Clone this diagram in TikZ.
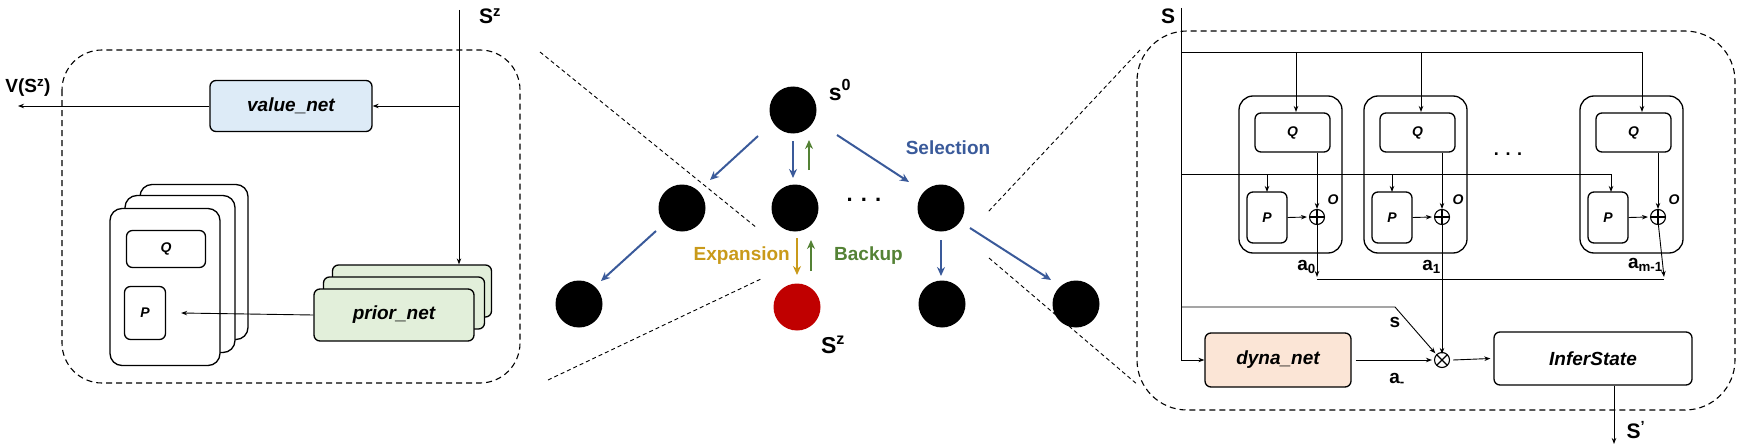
\documentclass[tikz,border=0pt]{standalone}
\usepackage{fontspec}
\setmainfont{Liberation Sans}
\usetikzlibrary{arrows.meta}
\definecolor{selblue}{HTML}{3A5A9A}
\definecolor{expo}{HTML}{C99A1A}
\definecolor{bgreen}{HTML}{548235}
\definecolor{vblue}{HTML}{DDEBF7}
\definecolor{pgreen}{HTML}{E2EFDA}
\definecolor{dorange}{HTML}{FBE5D6}
\definecolor{nred}{HTML}{C00000}
\tikzset{
  box/.style={draw,line width=1.3pt,rounded corners=6pt,inner sep=0pt,font=\bfseries\itshape\fontsize{19}{19}\selectfont},
  sbox/.style={box,font=\bfseries\itshape\fontsize{14}{14}\selectfont},
  card/.style={draw,line width=1.3pt,rounded corners=12pt,fill=white},
  arr/.style={-{Stealth[length=6pt,width=4.5pt]},line width=0.9pt},
  ln/.style={line width=0.9pt},
  dsh/.style={line width=1.1pt,dash pattern=on 6pt off 4pt},
  thindash/.style={line width=0.9pt,dash pattern=on 4pt off 3pt},
  tn/.style={circle,fill=black,minimum size=47pt,inner sep=0pt},
  sel/.style={-{Stealth[length=9pt,width=8pt]},line width=2pt,selblue},
  upg/.style={-{Stealth[length=9pt,width=8pt]},line width=2pt,bgreen},
  lbl/.style={font=\bfseries\fontsize{19}{19}\selectfont,inner sep=1pt},
  oplus/.style={circle,draw,line width=1.1pt,minimum size=15pt,inner sep=0pt,
    path picture={\draw[line width=1.1pt] (path picture bounding box.north) -- (path picture bounding box.south)
      (path picture bounding box.west) -- (path picture bounding box.east);}},
  otimes/.style={circle,draw,line width=1.1pt,minimum size=15pt,inner sep=0pt,
    path picture={\draw[line width=1.1pt] (path picture bounding box.north west) -- (path picture bounding box.south east)
      (path picture bounding box.south west) -- (path picture bounding box.north east);}}
}
\begin{document}
\begin{tikzpicture}[x=1pt,y=-1pt]
\useasboundingbox (0,0) rectangle (1738,444);
% ---------- left panel ----------
\draw[dsh,rounded corners=40pt] (62,50) rectangle (520,383);
\node[lbl,font=\bfseries\fontsize{21}{21}\selectfont] (sz1) at (490,16) {S\textsuperscript{z}};
\coordinate (top1) at (459,10);
\coordinate (jv) at (459,106);
\node[box,fill=vblue,minimum width=162pt,minimum height=51pt] (vn) at (291,106) {value\_net};
\node[lbl] (vsz) at (28,88) {V(S\textsuperscript{z})};
\coordinate (vout) at (18,106);
% stacked cards
\node[card,minimum width=108pt,minimum height=155pt] (c3) at (194,262) {};
\node[card,minimum width=110pt,minimum height=157pt] (c2) at (180,274) {};
\node[card,minimum width=110pt,minimum height=157pt] (c1) at (165,287) {};
\node[sbox,minimum width=79pt,minimum height=37pt] (q1) at (166,249) {Q};
\node[sbox,minimum width=41pt,minimum height=53pt] (p1) at (145,313) {P};
% prior_net stack
\node[box,fill=pgreen,minimum width=159pt,minimum height=52pt] (pn3) at (412,291) {};
\node[box,fill=pgreen,minimum width=161pt,minimum height=52pt] (pn2) at (404,303) {};
\node[box,fill=pgreen,minimum width=160pt,minimum height=52pt] (pn) at (394,315) {prior\_net};
\draw[ln] (top1) -- (jv);
\draw[arr] (jv) -- (pn3.north -| jv);
\draw[arr] (jv) -- (vn.east);
\draw[arr] (vn.west) -- (vout);
\draw[arr] (pn.west) -- ([xshift=15pt]p1.east);
% ---------- centre tree ----------
\draw[thindash] (540,52) -- (757,228);
\draw[thindash] (548,380) -- (763,278);
\draw[thindash] (1140,50) -- (988,212);
\draw[thindash] (989,258) -- (1138,385);
\node[tn] (s0) at (793,110) {};
\node[tn] (l) at (682,208) {};
\node[tn] (m) at (795,208) {};
\node[tn] (r) at (941,208) {};
\node[tn] (ll) at (579,304) {};
\node[tn,fill=nred] (sz) at (797,307) {};
\node[tn] (rb) at (942,304) {};
\node[tn] (rr) at (1076,304) {};
\node[lbl,font=\bfseries\fontsize{23}{23}\selectfont] (s0l) at (840,90) {s\textsuperscript{0}};
\node[lbl,font=\bfseries\fontsize{23}{23}\selectfont] (szl) at (833,345) {S\textsuperscript{z}};
\node[lbl,font=\bfseries\fontsize{22}{22}\selectfont] (dots1) at (864,200) {. . .};
\node[lbl,selblue] (seltxt) at (948,148) {Selection};
\node[lbl,expo,anchor=east] (exptxt) at (791,256) {Expansion};
\node[lbl,bgreen,anchor=west] (bktxt) at (833,256) {Backup};
\draw[sel] (758,136) -- (710,180);
\draw[sel] (793,141) -- (793,178);
\draw[upg] (809,170) -- (809,140);
\draw[sel] (837,135) -- (909,182);
\draw[sel] (656,231) -- (601,281);
\draw[-{Stealth[length=9pt,width=8pt]},line width=2pt,expo] (797,238) -- (797,275);
\draw[upg] (811,271) -- (811,240);
\draw[sel] (941,240) -- (941,276);
\draw[sel] (970,228) -- (1051,280);
% ---------- right panel ----------
\draw[dsh,rounded corners=50pt] (1137,31) rectangle (1735,410);
\node[lbl,font=\bfseries\fontsize{21}{21}\selectfont] (sl) at (1168,16) {S};
\coordinate (st) at (1181,8);
\coordinate (sb) at (1181,360);
\draw[ln] (st) -- (sb);
\foreach \i/\dx in {1/0,2/125,3/341}{
  \node[card,rounded corners=14pt,minimum width=103pt,minimum height=157pt] (mod\i) at (1290.5+\dx,174.5) {};
  \node[sbox,minimum width=75pt,minimum height=39pt] (q\i) at (1292.5+\dx,132.5) {Q};
  \node[sbox,minimum width=40pt,minimum height=51pt] (p\i) at (1267+\dx,217.5) {P};
  \node[oplus] (o\i) at (1317+\dx,217) {};
  \node[font=\bfseries\itshape\fontsize{14}{14}\selectfont] (ol\i) at (1333+\dx,200) {O};
  \draw[arr] (q\i.south -| o\i) -- (o\i.north);
  \draw[arr] (p\i.east) -- ([xshift=-2pt]o\i.west);
}
\coordinate (h1r) at (1642,52);
\draw[ln] (1181,52) -- (h1r);
\foreach \x/\q in {1296/1,1421/2,1642/3}{ \draw[arr] (\x,52) -- (\x,112); }
\draw[ln] (1181,174) -- (1611,174);
\foreach \x in {1267,1392,1611}{ \draw[arr] (\x,174) -- (\x,192); }
\node[lbl,font=\bfseries\fontsize{18}{18}\selectfont] (dots2) at (1508,154) {. . .};
\draw[arr] ([yshift=4pt]o1.south) -- (1317,277);
\draw[arr] ([yshift=4pt]o3.south) -- (1664,277);
\draw[ln] (1317,279) -- (1664,279);
\node[otimes] (ot) at (1442,360) {};
\draw[arr] ([yshift=4pt]o2.south) -- ([yshift=-2pt]ot.north);
\node[lbl,anchor=east] (a0) at (1317,267) {a\textsubscript{0}};
\node[lbl,anchor=east] (a1l) at (1442,267) {a\textsubscript{1}};
\node[lbl,anchor=east] (aml) at (1664,265) {a\textsubscript{m-1}};
\node[box,fill=dorange,minimum width=146pt,minimum height=54pt] (dn) at (1278,360) {dyna\_net};
\node[box,minimum width=198pt,minimum height=53pt] (inf) at (1593,358.5) {InferState};
\draw[arr] (sb) -- (dn.west);
\draw[arr] (1181,307) -- (1395,307) -- ([shift={(-1pt,1pt)}]ot.north west);
\node[lbl] (sl2) at (1395,322) {s};
\draw[arr] ([xshift=4pt]dn.east) -- ([xshift=-2pt]ot.west);
\node[lbl] (am) at (1397,380) {a\textsubscript{-}};
\draw[arr] ([xshift=3pt]ot.east) -- ([xshift=-3pt]inf.west);
\coordinate (sp) at (1614,444);
\draw[arr] (inf.south -| sp) -- (sp);
\node[lbl,font=\bfseries\fontsize{21}{21}\selectfont] (spl) at (1636,430) {S\textsuperscript{'}};
\end{tikzpicture}
\end{document}
